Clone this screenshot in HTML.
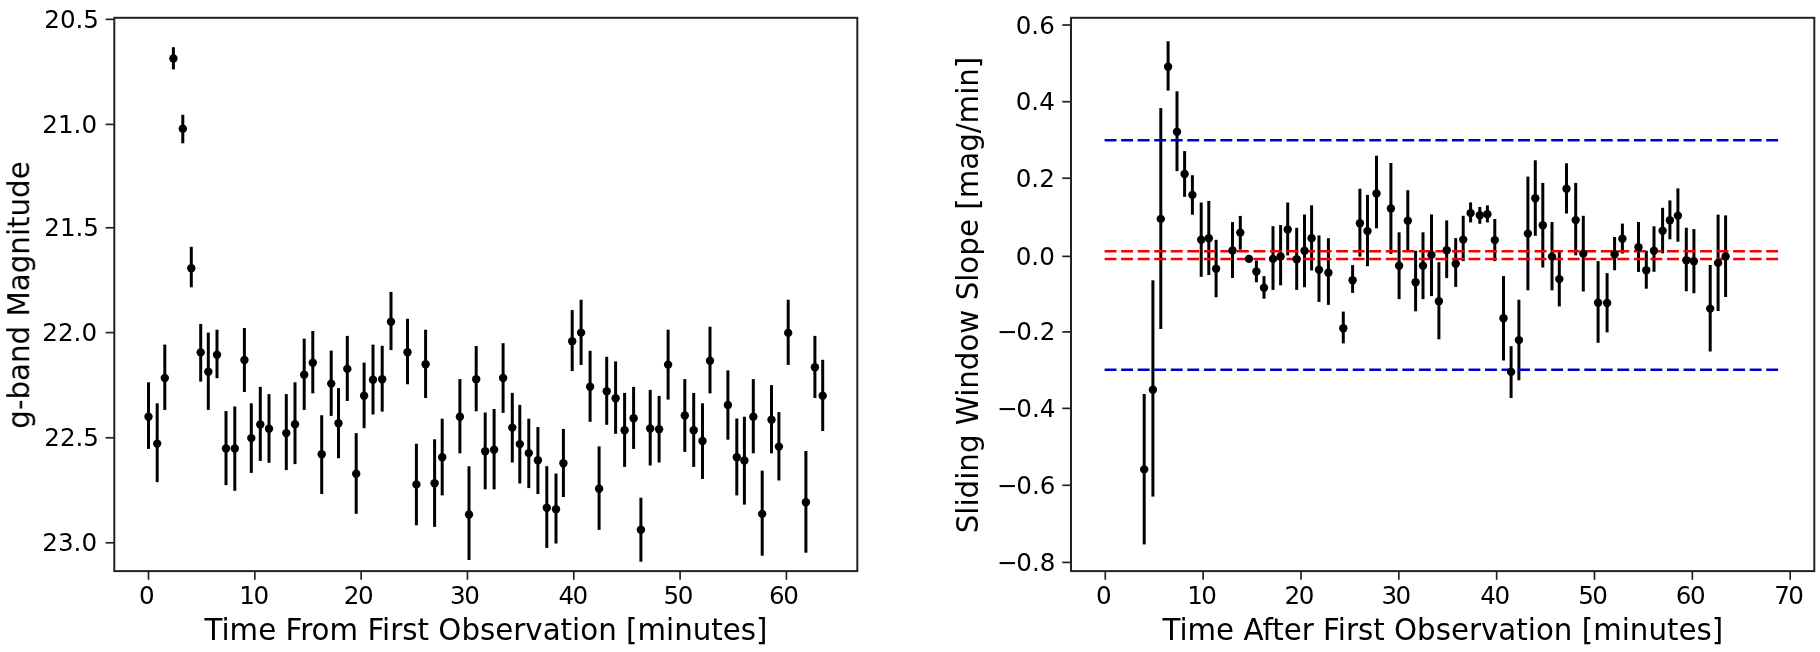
<!DOCTYPE html>
<html lang="en"><head><meta charset="utf-8"><title>Light curve and sliding window slope</title>
<style>html,body{margin:0;padding:0;background:#fff;}body{width:1820px;height:652px;overflow:hidden;}svg{display:block;}text{font-family:"DejaVu Sans","Liberation Sans",sans-serif;fill:#000;}</style></head><body>
<svg width="1820" height="652" viewBox="0 0 1820 652">
<rect x="0" y="0" width="1820" height="652" fill="#ffffff"/>
<defs><filter id="soft" x="0" y="0" width="1820" height="652" filterUnits="userSpaceOnUse"><feGaussianBlur stdDeviation="0.55"/></filter></defs>
<g filter="url(#soft)">
<g>
<g stroke="#222" stroke-width="1.7" fill="none">
<line x1="148.5" y1="571.1" x2="148.5" y2="579.8"/>
<line x1="254.82" y1="571.1" x2="254.82" y2="579.8"/>
<line x1="361.14" y1="571.1" x2="361.14" y2="579.8"/>
<line x1="467.46" y1="571.1" x2="467.46" y2="579.8"/>
<line x1="573.78" y1="571.1" x2="573.78" y2="579.8"/>
<line x1="680.1" y1="571.1" x2="680.1" y2="579.8"/>
<line x1="786.42" y1="571.1" x2="786.42" y2="579.8"/>
<line x1="105.6" y1="19.35" x2="114.3" y2="19.35"/>
<line x1="105.6" y1="124.4" x2="114.3" y2="124.4"/>
<line x1="105.6" y1="227.8" x2="114.3" y2="227.8"/>
<line x1="105.6" y1="332.6" x2="114.3" y2="332.6"/>
<line x1="105.6" y1="437.8" x2="114.3" y2="437.8"/>
<line x1="105.6" y1="542.8" x2="114.3" y2="542.8"/>
</g>
<g font-size="24.6" text-anchor="middle">
<text x="146.9" y="603.7">0</text>
<text x="253.42" y="603.7" letter-spacing="-1.5">10</text>
<text x="357.94" y="603.7" letter-spacing="-1.5">20</text>
<text x="464.26" y="603.7" letter-spacing="-1.5">30</text>
<text x="572.58" y="603.7" letter-spacing="-1.5">40</text>
<text x="677.7" y="603.7" letter-spacing="-1.5">50</text>
<text x="783.22" y="603.7" letter-spacing="-1.5">60</text>
</g>
<g font-size="24.6" text-anchor="end">
<text x="99" y="27.85">20.5</text>
<text x="97.1" y="132.9">21.0</text>
<text x="99" y="236.3">21.5</text>
<text x="97.1" y="341.1">22.0</text>
<text x="99" y="446.3">22.5</text>
<text x="97.1" y="551.3">23.0</text>
</g>
<text font-size="29.3" text-anchor="middle" x="486" y="640">Time From First Observation [minutes]</text>
<text font-size="29.3" text-anchor="middle" transform="translate(29.2 295) rotate(-90)">g-band Magnitude</text>
</g>
<g stroke="#000" stroke-width="3" stroke-linecap="butt">
<line x1="148.5" y1="382.3" x2="148.5" y2="448.9"/>
<line x1="157.2" y1="403.3" x2="157.2" y2="482.1"/>
<line x1="164.8" y1="344.6" x2="164.8" y2="409.9"/>
<line x1="173.4" y1="47.2" x2="173.4" y2="69.4"/>
<line x1="182.8" y1="114.8" x2="182.8" y2="143.3"/>
<line x1="191.3" y1="246.8" x2="191.3" y2="287.3"/>
<line x1="200.7" y1="323.9" x2="200.7" y2="381.6"/>
<line x1="208.3" y1="332.6" x2="208.3" y2="409.9"/>
<line x1="217" y1="329.7" x2="217" y2="378.2"/>
<line x1="226" y1="411.1" x2="226" y2="485.1"/>
<line x1="234.8" y1="406.5" x2="234.8" y2="490.8"/>
<line x1="244.4" y1="328" x2="244.4" y2="392"/>
<line x1="251.3" y1="403.3" x2="251.3" y2="472.9"/>
<line x1="260.3" y1="386.9" x2="260.3" y2="460.9"/>
<line x1="269" y1="394.1" x2="269" y2="462.8"/>
<line x1="286.3" y1="394.1" x2="286.3" y2="470.1"/>
<line x1="295" y1="382.3" x2="295" y2="464.1"/>
<line x1="304.2" y1="338.6" x2="304.2" y2="409.9"/>
<line x1="312.8" y1="331" x2="312.8" y2="393.4"/>
<line x1="321.7" y1="415.2" x2="321.7" y2="494"/>
<line x1="331.2" y1="350.6" x2="331.2" y2="415.9"/>
<line x1="338.5" y1="388.1" x2="338.5" y2="458.2"/>
<line x1="347.3" y1="335.9" x2="347.3" y2="401"/>
<line x1="356.2" y1="433.1" x2="356.2" y2="513.8"/>
<line x1="364.1" y1="362.6" x2="364.1" y2="428.2"/>
<line x1="373" y1="344.6" x2="373" y2="414.5"/>
<line x1="382.2" y1="345.8" x2="382.2" y2="411.6"/>
<line x1="391" y1="291.9" x2="391" y2="350.1"/>
<line x1="407.5" y1="318.8" x2="407.5" y2="384.3"/>
<line x1="416.4" y1="443.7" x2="416.4" y2="525.3"/>
<line x1="425.6" y1="329.7" x2="425.6" y2="398"/>
<line x1="434.6" y1="439.3" x2="434.6" y2="526.9"/>
<line x1="442.2" y1="418.7" x2="442.2" y2="495.4"/>
<line x1="459.9" y1="379.1" x2="459.9" y2="453.3"/>
<line x1="469" y1="466.3" x2="469" y2="560"/>
<line x1="476.2" y1="346" x2="476.2" y2="411.3"/>
<line x1="485.2" y1="412.5" x2="485.2" y2="489.4"/>
<line x1="494.1" y1="409" x2="494.1" y2="489.4"/>
<line x1="503.1" y1="343.2" x2="503.1" y2="412.9"/>
<line x1="512.3" y1="392.9" x2="512.3" y2="462.5"/>
<line x1="519.8" y1="404.9" x2="519.8" y2="483.5"/>
<line x1="528.8" y1="418.7" x2="528.8" y2="488.1"/>
<line x1="537.9" y1="427.1" x2="537.9" y2="494"/>
<line x1="546.8" y1="466.2" x2="546.8" y2="547.9"/>
<line x1="556" y1="473.6" x2="556" y2="543.5"/>
<line x1="563.4" y1="428.9" x2="563.4" y2="497"/>
<line x1="572.2" y1="310.1" x2="572.2" y2="371.1"/>
<line x1="581.1" y1="299.7" x2="581.1" y2="364.9"/>
<line x1="590.1" y1="350.8" x2="590.1" y2="421.8"/>
<line x1="599.1" y1="446.4" x2="599.1" y2="529.9"/>
<line x1="606.7" y1="356.8" x2="606.7" y2="424.8"/>
<line x1="615.6" y1="361.4" x2="615.6" y2="433.8"/>
<line x1="624.6" y1="392.9" x2="624.6" y2="466.9"/>
<line x1="633.6" y1="386.9" x2="633.6" y2="448.9"/>
<line x1="640.9" y1="497.7" x2="640.9" y2="561.7"/>
<line x1="650.2" y1="389.9" x2="650.2" y2="465.5"/>
<line x1="659.1" y1="395.9" x2="659.1" y2="462.5"/>
<line x1="668.1" y1="329.7" x2="668.1" y2="399.6"/>
<line x1="684.8" y1="379.1" x2="684.8" y2="451.9"/>
<line x1="693.7" y1="392.9" x2="693.7" y2="466.9"/>
<line x1="702.5" y1="403.3" x2="702.5" y2="478.9"/>
<line x1="710" y1="326.7" x2="710" y2="393.4"/>
<line x1="727.9" y1="370.4" x2="727.9" y2="439.7"/>
<line x1="736.8" y1="418.5" x2="736.8" y2="495.4"/>
<line x1="744.4" y1="416.7" x2="744.4" y2="504.6"/>
<line x1="753.3" y1="379.1" x2="753.3" y2="453.3"/>
<line x1="762.2" y1="470.6" x2="762.2" y2="555.7"/>
<line x1="771.5" y1="385.1" x2="771.5" y2="453.3"/>
<line x1="778.9" y1="412.1" x2="778.9" y2="480.5"/>
<line x1="788.2" y1="299.7" x2="788.2" y2="364.9"/>
<line x1="805.9" y1="451" x2="805.9" y2="552.7"/>
<line x1="814.9" y1="335.9" x2="814.9" y2="398"/>
<line x1="822.7" y1="359.8" x2="822.7" y2="431"/>
</g>
<g fill="#000">
<circle cx="148.5" cy="416.8" r="4.2"/>
<circle cx="157.2" cy="443.6" r="4.2"/>
<circle cx="164.8" cy="378" r="4.2"/>
<circle cx="173.4" cy="58.5" r="4.2"/>
<circle cx="182.8" cy="128.8" r="4.2"/>
<circle cx="191.3" cy="268.3" r="4.2"/>
<circle cx="200.7" cy="352.4" r="4.2"/>
<circle cx="208.3" cy="371.8" r="4.2"/>
<circle cx="217" cy="354.8" r="4.2"/>
<circle cx="226" cy="448.5" r="4.2"/>
<circle cx="234.8" cy="448.5" r="4.2"/>
<circle cx="244.4" cy="360" r="4.2"/>
<circle cx="251.3" cy="438.1" r="4.2"/>
<circle cx="260.3" cy="424.5" r="4.2"/>
<circle cx="269" cy="428.7" r="4.2"/>
<circle cx="286.3" cy="433.1" r="4.2"/>
<circle cx="295" cy="424.3" r="4.2"/>
<circle cx="304.2" cy="374.8" r="4.2"/>
<circle cx="312.8" cy="362.8" r="4.2"/>
<circle cx="321.7" cy="454.3" r="4.2"/>
<circle cx="331.2" cy="383.6" r="4.2"/>
<circle cx="338.5" cy="423.2" r="4.2"/>
<circle cx="347.3" cy="368.9" r="4.2"/>
<circle cx="356.2" cy="473.8" r="4.2"/>
<circle cx="364.1" cy="395.8" r="4.2"/>
<circle cx="373" cy="379.7" r="4.2"/>
<circle cx="382.2" cy="379.3" r="4.2"/>
<circle cx="391" cy="321.8" r="4.2"/>
<circle cx="407.5" cy="352.3" r="4.2"/>
<circle cx="416.4" cy="484.4" r="4.2"/>
<circle cx="425.6" cy="364.3" r="4.2"/>
<circle cx="434.6" cy="483.2" r="4.2"/>
<circle cx="442.2" cy="457.3" r="4.2"/>
<circle cx="459.9" cy="416.8" r="4.2"/>
<circle cx="469" cy="514.5" r="4.2"/>
<circle cx="476.2" cy="379.3" r="4.2"/>
<circle cx="485.2" cy="451.3" r="4.2"/>
<circle cx="494.1" cy="449.8" r="4.2"/>
<circle cx="503.1" cy="378" r="4.2"/>
<circle cx="512.3" cy="427.6" r="4.2"/>
<circle cx="519.8" cy="444.1" r="4.2"/>
<circle cx="528.8" cy="453.1" r="4.2"/>
<circle cx="537.9" cy="460.3" r="4.2"/>
<circle cx="546.8" cy="507.8" r="4.2"/>
<circle cx="556" cy="509.3" r="4.2"/>
<circle cx="563.4" cy="463.3" r="4.2"/>
<circle cx="572.2" cy="341.3" r="4.2"/>
<circle cx="581.1" cy="332.6" r="4.2"/>
<circle cx="590.1" cy="386.8" r="4.2"/>
<circle cx="599.1" cy="488.7" r="4.2"/>
<circle cx="606.7" cy="391.3" r="4.2"/>
<circle cx="615.6" cy="398.3" r="4.2"/>
<circle cx="624.6" cy="430.3" r="4.2"/>
<circle cx="633.6" cy="418.3" r="4.2"/>
<circle cx="640.9" cy="529.7" r="4.2"/>
<circle cx="650.2" cy="428.5" r="4.2"/>
<circle cx="659.1" cy="429.2" r="4.2"/>
<circle cx="668.1" cy="364.6" r="4.2"/>
<circle cx="684.8" cy="415.5" r="4.2"/>
<circle cx="693.7" cy="430.3" r="4.2"/>
<circle cx="702.5" cy="441" r="4.2"/>
<circle cx="710" cy="360.8" r="4.2"/>
<circle cx="727.9" cy="405" r="4.2"/>
<circle cx="736.8" cy="457.3" r="4.2"/>
<circle cx="744.4" cy="460.5" r="4.2"/>
<circle cx="753.3" cy="416.8" r="4.2"/>
<circle cx="762.2" cy="513.9" r="4.2"/>
<circle cx="771.5" cy="419.7" r="4.2"/>
<circle cx="778.9" cy="446.6" r="4.2"/>
<circle cx="788.2" cy="332.9" r="4.2"/>
<circle cx="805.9" cy="502.3" r="4.2"/>
<circle cx="814.9" cy="367.3" r="4.2"/>
<circle cx="822.7" cy="395.8" r="4.2"/>
</g>
<rect x="114.3" y="17.8" width="743" height="553.3" fill="none" stroke="#222" stroke-width="2"/>
<g>
<g stroke="#222" stroke-width="1.7" fill="none">
<line x1="1105.3" y1="571.1" x2="1105.3" y2="579.8"/>
<line x1="1203.14" y1="571.1" x2="1203.14" y2="579.8"/>
<line x1="1300.98" y1="571.1" x2="1300.98" y2="579.8"/>
<line x1="1398.82" y1="571.1" x2="1398.82" y2="579.8"/>
<line x1="1496.66" y1="571.1" x2="1496.66" y2="579.8"/>
<line x1="1594.5" y1="571.1" x2="1594.5" y2="579.8"/>
<line x1="1692.34" y1="571.1" x2="1692.34" y2="579.8"/>
<line x1="1790.18" y1="571.1" x2="1790.18" y2="579.8"/>
<line x1="1062.3" y1="25" x2="1071" y2="25"/>
<line x1="1062.3" y1="101.7" x2="1071" y2="101.7"/>
<line x1="1062.3" y1="178.2" x2="1071" y2="178.2"/>
<line x1="1062.3" y1="256.4" x2="1071" y2="256.4"/>
<line x1="1062.3" y1="331.9" x2="1071" y2="331.9"/>
<line x1="1062.3" y1="408.4" x2="1071" y2="408.4"/>
<line x1="1062.3" y1="485.3" x2="1071" y2="485.3"/>
<line x1="1062.3" y1="562.4" x2="1071" y2="562.4"/>
</g>
<g font-size="24.6" text-anchor="middle">
<text x="1103.8" y="603.7">0</text>
<text x="1201.34" y="603.7" letter-spacing="-1.5">10</text>
<text x="1298.68" y="603.7" letter-spacing="-1.5">20</text>
<text x="1395.62" y="603.7" letter-spacing="-1.5">30</text>
<text x="1494.46" y="603.7" letter-spacing="-1.5">40</text>
<text x="1592.3" y="603.7" letter-spacing="-1.5">50</text>
<text x="1689.94" y="603.7" letter-spacing="-1.5">60</text>
<text x="1788.38" y="603.7" letter-spacing="-1.5">70</text>
</g>
<g font-size="24.6" text-anchor="end">
<text x="1054.8" y="33.5">0.6</text>
<text x="1054.8" y="110.2">0.4</text>
<text x="1054.8" y="186.7">0.2</text>
<text x="1054.8" y="264.9">0.0</text>
<text x="1055.4" y="340.4"><tspan letter-spacing="-1.3">−</tspan>0.2</text>
<text x="1055.4" y="416.9"><tspan letter-spacing="-1.3">−</tspan>0.4</text>
<text x="1055.4" y="493.8"><tspan letter-spacing="-1.3">−</tspan>0.6</text>
<text x="1055.4" y="570.9"><tspan letter-spacing="-1.3">−</tspan>0.8</text>
</g>
<text font-size="29.3" text-anchor="middle" x="1442.8" y="640">Time After First Observation [minutes]</text>
<text font-size="29.3" text-anchor="middle" transform="translate(978.3 295) rotate(-90)">Sliding Window Slope [mag/min]</text>
</g>
<g stroke="#000" stroke-width="3" stroke-linecap="butt">
<line x1="1144.2" y1="394" x2="1144.2" y2="544.4"/>
<line x1="1152.9" y1="280.3" x2="1152.9" y2="496.6"/>
<line x1="1160.8" y1="108.1" x2="1160.8" y2="329"/>
<line x1="1168.1" y1="41.3" x2="1168.1" y2="90.6"/>
<line x1="1177" y1="91.3" x2="1177" y2="171.1"/>
<line x1="1184.6" y1="151.1" x2="1184.6" y2="196.8"/>
<line x1="1192.4" y1="175.2" x2="1192.4" y2="214.7"/>
<line x1="1201.2" y1="202.5" x2="1201.2" y2="276.8"/>
<line x1="1208.8" y1="200.9" x2="1208.8" y2="275"/>
<line x1="1216.1" y1="239.8" x2="1216.1" y2="297.3"/>
<line x1="1232.5" y1="222.1" x2="1232.5" y2="278"/>
<line x1="1240.3" y1="215.9" x2="1240.3" y2="249.7"/>
<line x1="1249" y1="257.3" x2="1249" y2="260.3"/>
<line x1="1256.4" y1="260.5" x2="1256.4" y2="282.3"/>
<line x1="1264" y1="276.1" x2="1264" y2="298.7"/>
<line x1="1273" y1="226.2" x2="1273" y2="289.9"/>
<line x1="1280.6" y1="225.1" x2="1280.6" y2="285.3"/>
<line x1="1287.7" y1="202.5" x2="1287.7" y2="255.4"/>
<line x1="1296.7" y1="227.8" x2="1296.7" y2="289.9"/>
<line x1="1304.5" y1="214.5" x2="1304.5" y2="287.2"/>
<line x1="1311.6" y1="205.3" x2="1311.6" y2="270.4"/>
<line x1="1319" y1="235.4" x2="1319" y2="301.9"/>
<line x1="1328.4" y1="238.2" x2="1328.4" y2="304.9"/>
<line x1="1343.3" y1="311.6" x2="1343.3" y2="343.4"/>
<line x1="1352.6" y1="265.1" x2="1352.6" y2="292.9"/>
<line x1="1359.9" y1="188.7" x2="1359.9" y2="256.6"/>
<line x1="1367.5" y1="194.9" x2="1367.5" y2="266.2"/>
<line x1="1376.5" y1="155.7" x2="1376.5" y2="228.3"/>
<line x1="1390.9" y1="163" x2="1390.9" y2="253.9"/>
<line x1="1399.1" y1="232.3" x2="1399.1" y2="299.1"/>
<line x1="1407.8" y1="190.2" x2="1407.8" y2="250.7"/>
<line x1="1415.6" y1="250.7" x2="1415.6" y2="311.3"/>
<line x1="1423" y1="232.3" x2="1423" y2="299.1"/>
<line x1="1431.5" y1="214.4" x2="1431.5" y2="296.1"/>
<line x1="1438.9" y1="262.2" x2="1438.9" y2="339.3"/>
<line x1="1446.7" y1="220.4" x2="1446.7" y2="278.1"/>
<line x1="1455.7" y1="238.1" x2="1455.7" y2="286.9"/>
<line x1="1463.2" y1="215.8" x2="1463.2" y2="261.1"/>
<line x1="1470.6" y1="202.4" x2="1470.6" y2="222.4"/>
<line x1="1479.8" y1="207" x2="1479.8" y2="223.8"/>
<line x1="1487.4" y1="205.4" x2="1487.4" y2="222.4"/>
<line x1="1494.8" y1="219" x2="1494.8" y2="261.1"/>
<line x1="1503.5" y1="276.1" x2="1503.5" y2="360.5"/>
<line x1="1511.1" y1="346.2" x2="1511.1" y2="398"/>
<line x1="1518.9" y1="299.7" x2="1518.9" y2="380.3"/>
<line x1="1527.9" y1="176.6" x2="1527.9" y2="290.3"/>
<line x1="1535.3" y1="160.3" x2="1535.3" y2="235.8"/>
<line x1="1542.8" y1="182.9" x2="1542.8" y2="267.5"/>
<line x1="1552" y1="222" x2="1552" y2="290.3"/>
<line x1="1559.3" y1="251.6" x2="1559.3" y2="306.4"/>
<line x1="1566.5" y1="163.3" x2="1566.5" y2="213.5"/>
<line x1="1575.7" y1="182.9" x2="1575.7" y2="255.3"/>
<line x1="1583.3" y1="215.8" x2="1583.3" y2="291.5"/>
<line x1="1598.1" y1="261.1" x2="1598.1" y2="342.8"/>
<line x1="1607.1" y1="273.1" x2="1607.1" y2="332.4"/>
<line x1="1614.6" y1="236.9" x2="1614.6" y2="270.3"/>
<line x1="1622.4" y1="223.6" x2="1622.4" y2="253.5"/>
<line x1="1638.5" y1="222" x2="1638.5" y2="271.9"/>
<line x1="1646.3" y1="250.7" x2="1646.3" y2="288.7"/>
<line x1="1654" y1="226.3" x2="1654" y2="271.8"/>
<line x1="1662.6" y1="207.8" x2="1662.6" y2="253.3"/>
<line x1="1669.9" y1="200.4" x2="1669.9" y2="239.3"/>
<line x1="1677.9" y1="188.4" x2="1677.9" y2="241.7"/>
<line x1="1686.3" y1="227.7" x2="1686.3" y2="291.2"/>
<line x1="1693.9" y1="229.1" x2="1693.9" y2="293.2"/>
<line x1="1710.2" y1="265" x2="1710.2" y2="351.5"/>
<line x1="1718.1" y1="214.6" x2="1718.1" y2="311"/>
<line x1="1725.6" y1="215.4" x2="1725.6" y2="297"/>
</g>
<line x1="1104.6" y1="140.2" x2="1778.9" y2="140.2" stroke="#0000cc" stroke-width="2.6" stroke-dasharray="11.9 4.64" fill="none"/>
<line x1="1104.6" y1="369.7" x2="1778.9" y2="369.7" stroke="#0000cc" stroke-width="2.6" stroke-dasharray="11.9 4.64" fill="none"/>
<line x1="1104.6" y1="251.2" x2="1778.9" y2="251.2" stroke="#f4000a" stroke-width="2.6" stroke-dasharray="11.9 4.64" fill="none"/>
<line x1="1104.6" y1="258.95" x2="1778.9" y2="258.95" stroke="#f4000a" stroke-width="2.6" stroke-dasharray="11.9 4.64" fill="none"/>
<g fill="#000">
<circle cx="1144.2" cy="469.4" r="4.2"/>
<circle cx="1152.9" cy="389.8" r="4.2"/>
<circle cx="1160.8" cy="218.9" r="4.2"/>
<circle cx="1168.1" cy="66.8" r="4.2"/>
<circle cx="1177" cy="131.8" r="4.2"/>
<circle cx="1184.6" cy="174" r="4.2"/>
<circle cx="1192.4" cy="194.9" r="4.2"/>
<circle cx="1201.2" cy="239.8" r="4.2"/>
<circle cx="1208.8" cy="238.3" r="4.2"/>
<circle cx="1216.1" cy="268.7" r="4.2"/>
<circle cx="1232.5" cy="250.5" r="4.2"/>
<circle cx="1240.3" cy="232.6" r="4.2"/>
<circle cx="1249" cy="258.9" r="4.2"/>
<circle cx="1256.4" cy="271.5" r="4.2"/>
<circle cx="1264" cy="287.8" r="4.2"/>
<circle cx="1273" cy="258.9" r="4.2"/>
<circle cx="1280.6" cy="256.5" r="4.2"/>
<circle cx="1287.7" cy="229.5" r="4.2"/>
<circle cx="1296.7" cy="259.3" r="4.2"/>
<circle cx="1304.5" cy="250.8" r="4.2"/>
<circle cx="1311.6" cy="238.3" r="4.2"/>
<circle cx="1319" cy="269.8" r="4.2"/>
<circle cx="1328.4" cy="272.7" r="4.2"/>
<circle cx="1343.3" cy="328.3" r="4.2"/>
<circle cx="1352.6" cy="280.3" r="4.2"/>
<circle cx="1359.9" cy="223.3" r="4.2"/>
<circle cx="1367.5" cy="231.1" r="4.2"/>
<circle cx="1376.5" cy="193.5" r="4.2"/>
<circle cx="1390.9" cy="208.5" r="4.2"/>
<circle cx="1399.1" cy="265.8" r="4.2"/>
<circle cx="1407.8" cy="220.7" r="4.2"/>
<circle cx="1415.6" cy="282.3" r="4.2"/>
<circle cx="1423" cy="265.8" r="4.2"/>
<circle cx="1431.5" cy="254.9" r="4.2"/>
<circle cx="1438.9" cy="301.3" r="4.2"/>
<circle cx="1446.7" cy="250.3" r="4.2"/>
<circle cx="1455.7" cy="263.8" r="4.2"/>
<circle cx="1463.2" cy="239.6" r="4.2"/>
<circle cx="1470.6" cy="213.1" r="4.2"/>
<circle cx="1479.8" cy="215.3" r="4.2"/>
<circle cx="1487.4" cy="214.3" r="4.2"/>
<circle cx="1494.8" cy="240.1" r="4.2"/>
<circle cx="1503.5" cy="318.3" r="4.2"/>
<circle cx="1511.1" cy="371.9" r="4.2"/>
<circle cx="1518.9" cy="340.1" r="4.2"/>
<circle cx="1527.9" cy="233.6" r="4.2"/>
<circle cx="1535.3" cy="198.3" r="4.2"/>
<circle cx="1542.8" cy="225.3" r="4.2"/>
<circle cx="1552" cy="256.6" r="4.2"/>
<circle cx="1559.3" cy="279.1" r="4.2"/>
<circle cx="1566.5" cy="188.8" r="4.2"/>
<circle cx="1575.7" cy="220.1" r="4.2"/>
<circle cx="1583.3" cy="253.6" r="4.2"/>
<circle cx="1598.1" cy="302.7" r="4.2"/>
<circle cx="1607.1" cy="303" r="4.2"/>
<circle cx="1614.6" cy="254.3" r="4.2"/>
<circle cx="1622.4" cy="238.7" r="4.2"/>
<circle cx="1638.5" cy="247.3" r="4.2"/>
<circle cx="1646.3" cy="270.3" r="4.2"/>
<circle cx="1654" cy="250.8" r="4.2"/>
<circle cx="1662.6" cy="230.8" r="4.2"/>
<circle cx="1669.9" cy="220.3" r="4.2"/>
<circle cx="1677.9" cy="215.6" r="4.2"/>
<circle cx="1686.3" cy="260.3" r="4.2"/>
<circle cx="1693.9" cy="261.2" r="4.2"/>
<circle cx="1710.2" cy="308.6" r="4.2"/>
<circle cx="1718.1" cy="262.9" r="4.2"/>
<circle cx="1725.6" cy="256.4" r="4.2"/>
</g>
<rect x="1071" y="17.8" width="743.3" height="553.3" fill="none" stroke="#222" stroke-width="2"/>
</g>
</svg></body></html>
